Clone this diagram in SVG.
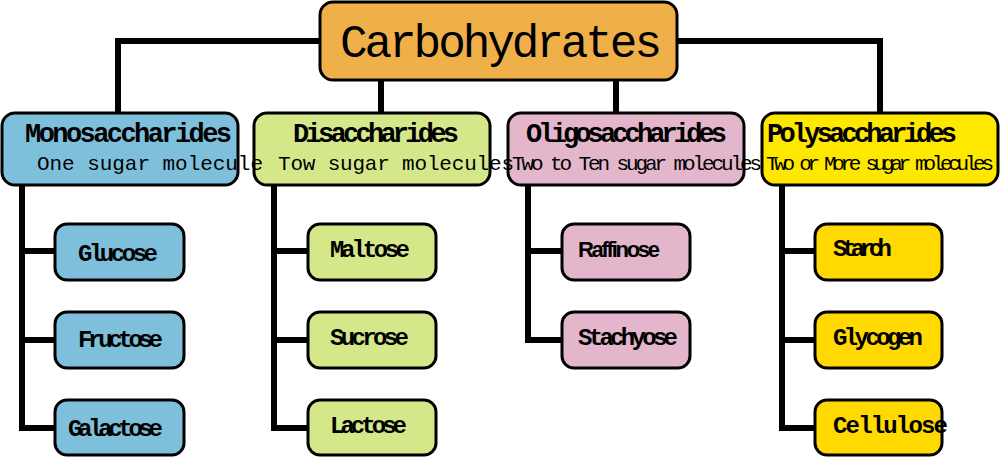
<svg xmlns="http://www.w3.org/2000/svg" width="1000" height="457" viewBox="0 0 1000 457">
<style>
.box{stroke:#000;stroke-width:3}
.conn{stroke:#000;stroke-width:6;fill:none;stroke-linecap:square}
.mono{font-family:"Liberation Mono","Courier New",monospace;fill:#000}
.title{font-size:27px;font-weight:bold}
.sub{font-size:21px}
.item{font-size:24px;font-weight:bold}
.blue{fill:#7EC0DC}.green{fill:#D4E88A}.pink{fill:#E4B6CB}.yellow{fill:#FFE800}.gold{fill:#FFD900}
</style>
<rect width="1000" height="457" fill="#fff"/>
<g id="connectors">
<path class="conn" d="M118,113 V41 H320 M677,41 H880 V113 M381,80 V113 M616,80 V113"/>
<path class="conn" d="M22,185 V428 M22,251 H55 M22,340 H55 M22,428 H55"/>
<path class="conn" d="M274,185 V428 M274,251 H308 M274,340 H308 M274,428 H308"/>
<path class="conn" d="M528,185 V340 M528,251 H562 M528,340 H562"/>
<path class="conn" d="M782,185 V428 M782,251 H815 M782,340 H815 M782,428 H815"/>
</g>
<g id="carbohydrates">
<rect class="box" x="320" y="2" width="357" height="78" rx="13" fill="#EFB04A"/>
<text class="mono" x="340" y="57" font-size="46" textLength="322">Carbohydrates</text>
</g>
<g id="polysaccharides">
<rect class="box yellow" x="762" y="113" width="236" height="72" rx="13"/>
<text class="mono title" x="767" y="142" textLength="190">Polysaccharides</text>
<text class="mono sub" x="766" y="170" textLength="228">Two or More sugar molecules</text>
</g>
<g id="oligosaccharides">
<rect class="box pink" x="508" y="113" width="236" height="72" rx="13"/>
<text class="mono title" x="526" y="142" textLength="201">Oligosaccharides</text>
<text class="mono sub" x="512" y="170" textLength="250">Two to Ten sugar molecules</text>
</g>
<g id="disaccharides">
<rect class="box green" x="254" y="113" width="236" height="72" rx="13"/>
<text class="mono title" x="293" y="142" textLength="166">Disaccharides</text>
<text class="mono sub" x="278" y="170" textLength="236">Tow sugar molecules</text>
</g>
<g id="monosaccharides">
<rect class="box blue" x="2" y="113" width="236" height="72" rx="13"/>
<text class="mono title" x="25" y="142" textLength="207">Monosaccharides</text>
<text class="mono sub" x="37" y="170" textLength="226">One sugar molecule</text>
</g>
<g id="glucose"><rect class="box blue" x="55" y="224" width="129" height="56" rx="12"/><text class="mono item" x="78" y="261" textLength="80">Glucose</text></g>
<g id="fructose"><rect class="box blue" x="55" y="312" width="129" height="56" rx="12"/><text class="mono item" x="78" y="347" textLength="85">Fructose</text></g>
<g id="galactose"><rect class="box blue" x="55" y="400" width="129" height="55" rx="12"/><text class="mono item" x="68" y="436" textLength="95">Galactose</text></g>
<g id="maltose"><rect class="box green" x="308" y="224" width="128" height="56" rx="12"/><text class="mono item" x="330" y="257" textLength="80">Maltose</text></g>
<g id="sucrose"><rect class="box green" x="308" y="312" width="128" height="56" rx="12"/><text class="mono item" x="330" y="345" textLength="79">Sucrose</text></g>
<g id="lactose"><rect class="box green" x="308" y="400" width="128" height="55" rx="12"/><text class="mono item" x="330" y="433" textLength="77">Lactose</text></g>
<g id="raffinose"><rect class="box pink" x="562" y="224" width="128" height="56" rx="12"/><text x="578" y="257" font-family="'Liberation Sans Narrow','Liberation Sans',Arial,sans-serif" font-size="22" font-weight="bold" textLength="82">Raffinose</text></g>
<g id="stachyose"><rect class="box pink" x="562" y="312" width="128" height="56" rx="12"/><text class="mono item" x="578" y="345" textLength="100">Stachyose</text></g>
<g id="starch"><rect class="box gold" x="815" y="224" width="127" height="56" rx="12"/><text class="mono item" x="833" y="256" textLength="59">Starch</text></g>
<g id="glycogen"><rect class="box gold" x="815" y="312" width="127" height="56" rx="12"/><text class="mono item" x="833" y="345" textLength="90">Glycogen</text></g>
<g id="cellulose"><rect class="box gold" x="815" y="400" width="127" height="55" rx="12"/><text class="mono item" x="833" y="433" textLength="115">Cellulose</text></g>
</svg>
